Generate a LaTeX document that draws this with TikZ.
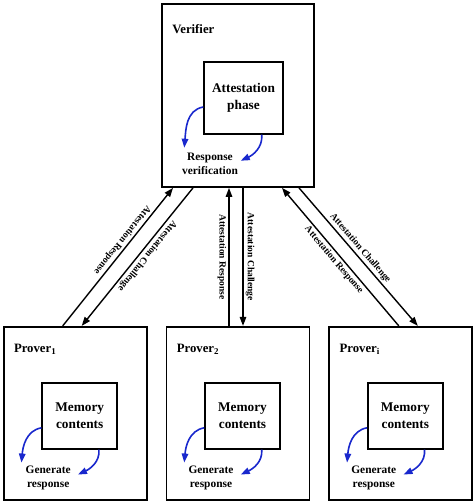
\documentclass[tikz,border=0pt]{standalone}
\usepackage{fontspec}
\setmainfont{Liberation Serif}
\usetikzlibrary{positioning}
\usetikzlibrary{arrows.meta}

\definecolor{loopblue}{RGB}{25,40,205}

\begin{document}
\begin{tikzpicture}[x=1pt, y=1pt, >={Triangle[length=9pt,width=6.5pt]},
        outerbox/.style={draw, line width=1.8pt, inner sep=0pt},
        innerbox/.style={draw, line width=1.5pt, align=center, font=\fontsize{13.3}{16.5}\selectfont\bfseries},
        boxtitle/.style={inner sep=0pt, font=\fontsize{12.75}{15}\selectfont\bfseries},
        stepnote/.style={inner sep=0pt, align=center, font=\fontsize{11.4}{13.8}\selectfont\bfseries},
        cyclearrow/.style={->, loopblue, line width=1.6pt},
        flow/.style={line width=1.4pt},
        msg/.style={sloped, allow upside down, inner sep=2pt, font=\fontsize{9.5}{11}\selectfont\bfseries}]

        \useasboundingbox (0,0) rectangle (474,502);

        % verifier side
        \node[outerbox, minimum width=152pt, minimum height=183pt] (verifier) at (238,406.5) {};
        \node[boxtitle, below right=21pt and 11pt of verifier.north west] (verifiertitle) {Verifier};
        \node[innerbox, minimum width=79pt, minimum height=72pt] (phase) at ([shift={(5.5pt,-2.5pt)}]verifier.center) {Attestation\\phase};
        \node[stepnote] (verification) at ([shift={(-33.5pt,-29pt)}]phase.south) {Response\\verification};
        \coordinate (phaseleft) at ([shift={(-19pt,-13pt)}]phase.south west);
        \coordinate (phaseright) at ([shift={(-43pt,-26pt)}]phase.south east);
        \draw[cyclearrow] ([yshift=-9pt]phase.west) to[out=190, in=85] (phaseleft);
        \draw[cyclearrow] ([xshift=-22pt]phase.south east) to[out=-85, in=25] (phaseright);

        % prover side
        \node[outerbox, minimum width=143pt, minimum height=173pt, below=138pt of verifier] (prover2) {};
        \node[outerbox, minimum width=143pt, minimum height=173pt, left=18pt of prover2] (prover1) {};
        \node[outerbox, minimum width=143pt, minimum height=173pt, right=18pt of prover2] (proveri) {};

        \foreach \p/\s in {prover1/1, prover2/2, proveri/i} {
            \node[boxtitle, below right=18pt and 11pt of \p.north west] (\p-title) {Prover\textsubscript{\s}};
            \node[innerbox, minimum width=75pt, minimum height=66pt] (\p-mem) at ([shift={(4.5pt,-2.5pt)}]\p.center) {Memory\\contents};
            \node[stepnote] (\p-gen) at ([shift={(-31.5pt,-28pt)}]\p-mem.south) {Generate\\response};
            \coordinate (\p-left) at ([shift={(-20pt,-13pt)}]\p-mem.south west);
            \coordinate (\p-right) at ([shift={(-40pt,-25pt)}]\p-mem.south east);
            \draw[cyclearrow] ([yshift=-12pt]\p-mem.west) to[out=190, in=85] (\p-left);
            \draw[cyclearrow] ([xshift=-19pt]\p-mem.south east) to[out=-85, in=25] (\p-right);
        }

        % messages
        \draw[flow, <-] ([xshift=-65pt]verifier.south) -- node[msg, below, pos=0.41] {Attestation Response} ([xshift=-12.5pt]prover1.north);
        \draw[flow, ->] ([xshift=-45pt]verifier.south) -- node[msg, above, pos=0.46] {Attestation Challenge} ([xshift=6.5pt]prover1.north);
        \draw[flow, <-] ([xshift=-9pt]verifier.south) -- node[msg, below] {Attestation Response} ([xshift=-9pt]prover2.north);
        \draw[flow, ->] ([xshift=5pt]verifier.south) -- node[msg, above] {Attestation Challenge} ([xshift=5pt]prover2.north);
        \draw[flow, <-] ([xshift=44pt]verifier.south) -- node[msg, below, pos=0.49] {Attestation Response} ([xshift=-2pt]proveri.north);
        \draw[flow, ->] ([xshift=61pt]verifier.south) -- node[msg, above, pos=0.47] {Attestation Challenge} ([xshift=17pt]proveri.north);

    \end{tikzpicture}
\end{document}
